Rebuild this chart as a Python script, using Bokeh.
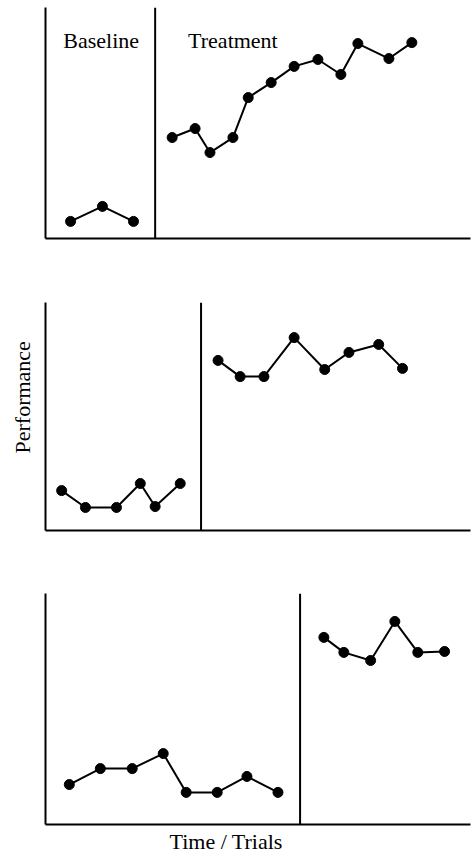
from bokeh.plotting import figure
from bokeh.models import Range1d, Span, Label, Title, FixedTicker
from bokeh.layouts import column
from bokeh.embed import file_html
from bokeh.resources import INLINE

# ---- data (x: time position, y: performance, both 0-100 scale) ----
p1_base_x = [5.9, 13.4, 20.7]
p1_base_y = [7.4, 13.9, 7.4]
p1_treat_x = [29.8, 35.2, 38.7, 44.1, 47.7, 53.1, 58.5, 64.1, 69.5, 73.5, 80.8, 86.2]
p1_treat_y = [43.7, 47.6, 37.2, 43.7, 61.0, 67.5, 74.5, 77.5, 71.0, 84.4, 77.9, 84.8]
p1_phase = 25.8

p2_base_x = [3.8, 9.4, 16.7, 22.3, 25.8, 31.7]
p2_base_y = [17.5, 10.1, 10.1, 20.6, 10.5, 20.6]
p2_treat_x = [40.6, 45.8, 51.4, 58.5, 65.7, 71.4, 78.4, 84.0]
p2_treat_y = [74.6, 67.5, 67.5, 84.6, 70.6, 78.1, 81.6, 71.1]
p2_phase = 36.6

p3_base_x = [5.6, 12.9, 20.4, 27.7, 33.1, 40.4, 47.4, 54.7]
p3_base_y = [17.3, 24.2, 24.2, 30.7, 13.9, 13.9, 20.8, 13.9]
p3_treat_x = [65.5, 70.2, 76.5, 82.2, 87.6, 93.9]
p3_treat_y = [81.0, 74.5, 71.0, 87.9, 74.5, 74.9]
p3_phase = 59.9

phase_labels = ["Baseline", "Treatment"]
y_title = "Performance"
x_title = "Time / Trials"

FONT = "Liberation Serif"
W = 474


def make_panel(h, top, bottom, bx, by, tx, ty, phase):
    p = figure(width=W, height=h, x_range=Range1d(0, 100), y_range=Range1d(0, 100),
               output_backend="svg", toolbar_location=None)
    p.min_border = 0
    p.min_border_left = 44
    p.min_border_right = 4
    p.min_border_top = top
    p.min_border_bottom = bottom
    p.outline_line_color = None
    p.grid.visible = False
    p.background_fill_color = "white"
    p.border_fill_color = "white"
    for ax in (p.xaxis, p.yaxis):
        ax.ticker = FixedTicker(ticks=[])
        ax.major_tick_line_color = None
        ax.minor_tick_line_color = None
        ax.axis_line_width = 2
        ax.axis_line_color = "black"
        ax.major_label_standoff = 0
    p.add_layout(Span(location=phase, dimension="height", line_color="black", line_width=2))
    for xs, ys in ((bx, by), (tx, ty)):
        p.line(xs, ys, line_color="black", line_width=2)
        p.scatter(xs, ys, size=10, fill_color="black", line_color="black")
    return p


p1 = make_panel(270, 7, 32, p1_base_x, p1_base_y, p1_treat_x, p1_treat_y, p1_phase)
p2 = make_panel(292, 32, 32, p2_base_x, p2_base_y, p2_treat_x, p2_treat_y, p2_phase)
p3 = make_panel(294, 31, 32, p3_base_x, p3_base_y, p3_treat_x, p3_treat_y, p3_phase)

p1.add_layout(Label(x=13.1, y=85.8, text=phase_labels[0], text_font=FONT, text_font_size="22px",
                    text_align="center", text_baseline="alphabetic", text_color="black"))
p1.add_layout(Label(x=44.1, y=85.8, text=phase_labels[1], text_font=FONT, text_font_size="22px",
                    text_align="center", text_baseline="alphabetic", text_color="black"))

p2.add_layout(Title(text=y_title, align="left", offset=77, vertical_align="top",
                    text_font=FONT, text_font_size="22px", text_font_style="normal",
                    text_color="black", standoff=18), "left")
p3.add_layout(Title(text=x_title, align="left", offset=124, text_font=FONT,
                    text_font_size="22px", text_font_style="normal", text_color="black",
                    standoff=5), "below")

layout = column(p1, p2, p3, spacing=0)
open("out.html", "w").write(file_html(layout, INLINE))
